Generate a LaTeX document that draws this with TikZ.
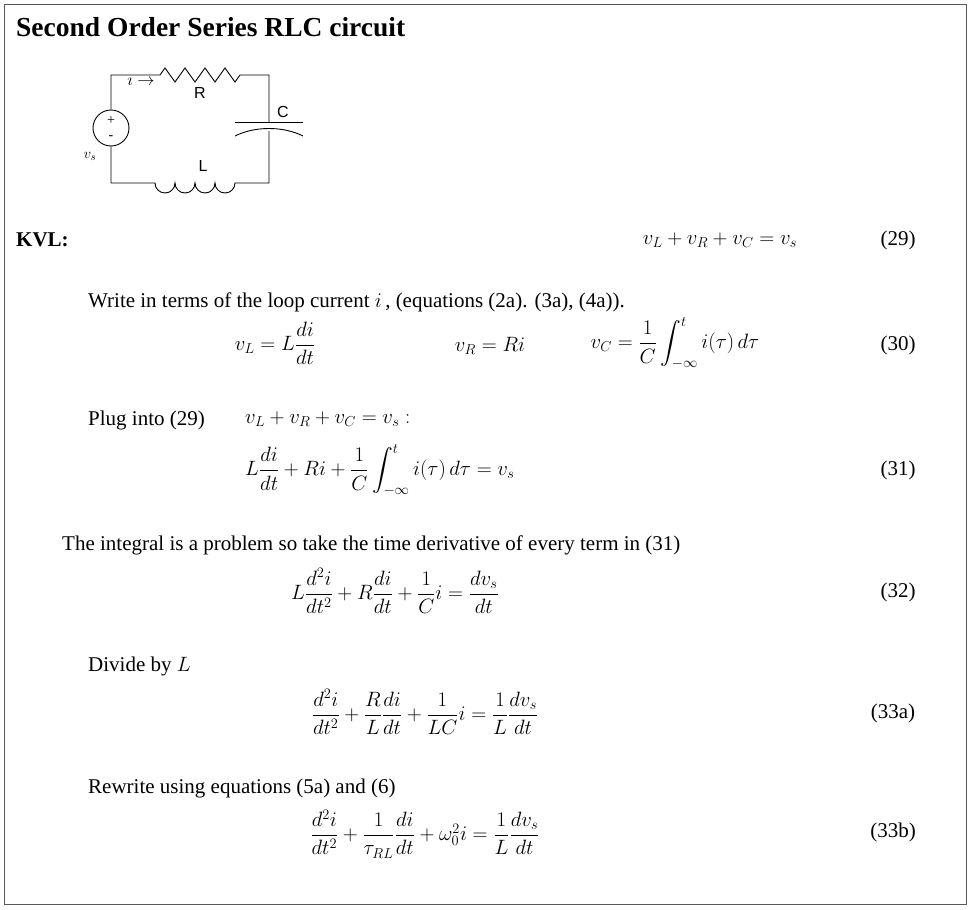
\documentclass[tikz,border=0pt]{standalone}
\usepackage{amsmath}
\usepackage{fontspec}
\setmainfont{Liberation Serif}
\setsansfont{Liberation Sans}
\begin{document}
\begin{tikzpicture}[x=1pt,y=-1pt,
  txt/.style={anchor=west,inner sep=0pt,font=\fontsize{21}{24}\selectfont},
  eq/.style={inner sep=0pt,font=\fontsize{22}{24}\selectfont},
  lab/.style={inner sep=0pt,font=\sffamily\fontsize{16}{18}\selectfont},
  wire/.style={line width=0.9pt}]
\useasboundingbox (0,0) rectangle (970,910);
\draw[line width=0.8pt,gray!70!black] (4,4) rectangle (966,904);
\node[txt,font=\bfseries\fontsize{27.5}{30}\selectfont] (title) at (16,27) {Second Order Series RLC circuit};
% circuit
\node[draw,circle,wire,minimum size=36pt,inner sep=0pt] (src) at (111,128) {};
\node[lab,font=\fontsize{14}{16}\selectfont] (plus) at (111,121) {+};
\node[lab,font=\fontsize{14}{16}\selectfont] (minus) at (111,138) {-};
\coordinate (tl) at (111,75); \coordinate (tr) at (269,75);
\coordinate (bl) at (111,183); \coordinate (br) at (269,183);
\draw[wire] (src.north) -- (tl) -- (160,75) -- (165,68) -- (175,82) -- (185,68) -- (195,82) -- (205,68) -- (215,82) -- (225,68) -- (235,82) -- (240,75) -- (tr) -- (269,122);
\draw[wire] (src.south) -- (bl) -- (155,183)
  arc[start angle=180,end angle=0,radius=10] arc[start angle=180,end angle=0,radius=10]
  arc[start angle=180,end angle=0,radius=10] arc[start angle=180,end angle=0,radius=10] -- (br) -- (269,131);
\draw[wire] (235,122) -- (303,122);
\draw[wire] (235,136) .. controls (255,126) and (283,126) .. (303,136);
\node[lab] (R) at (200,93) {R};
\node[lab] (C) at (283,112) {C};
\node[lab] (L) at (203,166) {L};
\node[eq,font=\fontsize{16}{18}\selectfont] (i) at (141,82) {$\imath\rightarrow$};
\node[eq,font=\fontsize{15}{16}\selectfont] (vs) at (90,156) {$v_s$};
% KVL
\node[txt,font=\bfseries\fontsize{21}{24}\selectfont] (kvl) at (16,240) {KVL:};
\node[eq] (e29) at (720,240) {$v_L+v_R+v_C=v_s$};
\node[eq,font=\fontsize{21}{24}\selectfont] (n29) at (898,240) {(29)};
\node[txt] (t1) at (88,302) {Write in terms of the loop current $i$\,, (equations (2a). (3a), (4a)).};
\node[eq] (e30a) at (275,343) {$v_L=L\dfrac{di}{dt}$};
\node[eq] (e30b) at (490,346) {$v_R=Ri$};
\node[eq] (e30c) at (675,343) {$v_C=\dfrac{1}{C}\displaystyle\int_{-\infty}^{t} i(\tau)\,d\tau$};
\node[eq,font=\fontsize{21}{24}\selectfont] (n30) at (898,345) {(30)};
\node[txt] (t2) at (88,420) {Plug into (29)};
\node[txt,font=\fontsize{22}{24}\selectfont] (e31a) at (245,419) {$v_L+v_R+v_C=v_s:$};
\node[txt,font=\fontsize{22}{24}\selectfont] (e31) at (245,470) {$L\dfrac{di}{dt}+Ri+\dfrac{1}{C}\displaystyle\int_{-\infty}^{t} i(\tau)\,d\tau=v_s$};
\node[eq,font=\fontsize{21}{24}\selectfont] (n31) at (898,470) {(31)};
\node[txt] (t3) at (62,545) {The integral is a problem so take the time derivative of every term in (31)};
\node[eq] (e32) at (395,591) {$L\dfrac{d^2i}{dt^2}+R\dfrac{di}{dt}+\dfrac{1}{C}i=\dfrac{dv_s}{dt}$};
\node[eq,font=\fontsize{21}{24}\selectfont] (n32) at (898,592) {(32)};
\node[txt] (t4) at (88,666) {Divide by $L$};
\node[eq] (e33a) at (425,712) {$\dfrac{d^2i}{dt^2}+\dfrac{R}{L}\dfrac{di}{dt}+\dfrac{1}{LC}i=\dfrac{1}{L}\dfrac{dv_s}{dt}$};
\node[eq,font=\fontsize{21}{24}\selectfont] (n33a) at (893,713) {(33a)};
\node[txt] (t5) at (88,788) {Rewrite using equations (5a) and (6)};
\node[eq] (e33b) at (425,834) {$\dfrac{d^2i}{dt^2}+\dfrac{1}{\tau_{RL}}\dfrac{di}{dt}+\omega_0^2 i=\dfrac{1}{L}\dfrac{dv_s}{dt}$};
\node[eq,font=\fontsize{21}{24}\selectfont] (n33b) at (893,832) {(33b)};
\end{tikzpicture}
\end{document}
